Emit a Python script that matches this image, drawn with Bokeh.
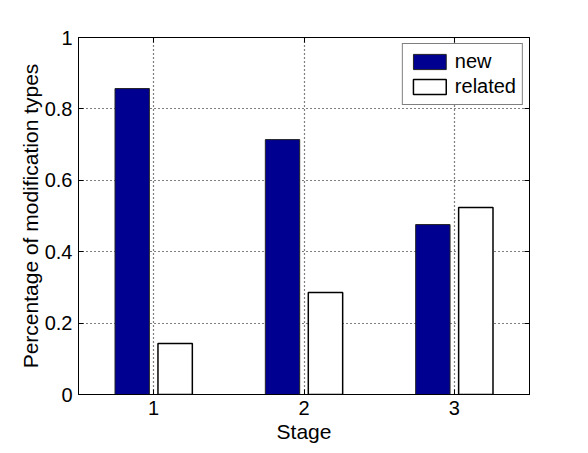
from bokeh.plotting import figure
from bokeh.models import (ColumnDataSource, FixedTicker, LinearAxis, Legend,
                          LegendItem, Range1d)
from bokeh.transform import dodge
from bokeh.embed import file_html
from bokeh.resources import INLINE

stages = [1, 2, 3]
new = [0.857, 0.714, 0.476]
related = [0.143, 0.286, 0.524]
yticks = [0, 0.2, 0.4, 0.6, 0.8, 1]
yticklabels = ["0", "0.2", "0.4", "0.6", "0.8", "1"]

FONT = "Liberation Sans"

source = ColumnDataSource(dict(stage=stages, new=new, related=related))

p = figure(width=580, height=445, output_backend="svg", toolbar_location=None,
           x_range=Range1d(0.5, 3.5), y_range=Range1d(0, 1),
           min_border_left=78, min_border_right=51,
           min_border_top=37, min_border_bottom=48)
p.background_fill_color = "white"
p.border_fill_color = "white"
p.outline_line_color = "black"
p.outline_line_width = 1

r_new = p.vbar(x=dodge('stage', -0.1429), top='new', width=0.2286, source=source,
               fill_color="#000090", line_color="#222222", line_width=1)
r_rel = p.vbar(x=dodge('stage', 0.1429), top='related', width=0.2286, source=source,
               fill_color="white", line_color="black", line_width=1.5)

for ax in (p.xaxis[0], p.yaxis[0]):
    ax.major_tick_in = 5
    ax.major_tick_out = 0
    ax.minor_tick_line_color = None
    ax.axis_line_color = "black"
    ax.major_tick_line_color = "black"
    ax.major_label_text_font = FONT
    ax.major_label_text_font_size = "20px"
    ax.major_label_text_color = "black"
    ax.axis_label_text_font = FONT
    ax.axis_label_text_font_size = "21px"
    ax.axis_label_text_font_style = "normal"
    ax.axis_label_text_color = "black"

p.xaxis.ticker = FixedTicker(ticks=stages)
p.yaxis.ticker = FixedTicker(ticks=yticks)
p.yaxis.major_label_overrides = {t: l for t, l in zip(yticks, yticklabels)}
p.xaxis.axis_label = "Stage"
p.yaxis.axis_label = "Percentage of modification types"
p.xaxis.major_label_standoff = 6
p.yaxis.major_label_standoff = 6
p.xaxis.axis_label_standoff = 2
p.yaxis.axis_label_standoff = 0

# box ticks on the right and top, MATLAB style (no labels)
right = LinearAxis(ticker=FixedTicker(ticks=yticks), major_tick_in=5, major_tick_out=0,
                   minor_tick_line_color=None, major_label_text_color=None,
                   axis_line_color="black", major_label_standoff=0)
top = LinearAxis(ticker=FixedTicker(ticks=stages), major_tick_in=5, major_tick_out=0,
                 minor_tick_line_color=None, major_label_text_color=None,
                 axis_line_color="black", major_label_standoff=0)
p.add_layout(right, "right")
p.add_layout(top, "above")

p.xgrid.ticker = FixedTicker(ticks=stages)
p.ygrid.ticker = FixedTicker(ticks=yticks)
for g in (p.xgrid[0], p.ygrid[0]):
    g.grid_line_color = "black"
    g.grid_line_dash = "1 3"
    g.grid_line_width = 1.2
    g.grid_line_alpha = 1

legend = Legend(items=[LegendItem(label="new", renderers=[r_new]),
                       LegendItem(label="related", renderers=[r_rel])],
                location="top_right")
legend.label_text_font = FONT
legend.label_text_font_size = "20px"
legend.label_text_color = "black"
legend.glyph_width = 41
legend.glyph_height = 19
legend.label_standoff = 5
legend.padding = 6
legend.spacing = 2
legend.margin = 6
legend.border_line_color = "black"
legend.border_line_width = 1
legend.background_fill_alpha = 1
legend.label_height = 19
p.add_layout(legend)

open("out.html", "w").write(file_html(p, INLINE))
